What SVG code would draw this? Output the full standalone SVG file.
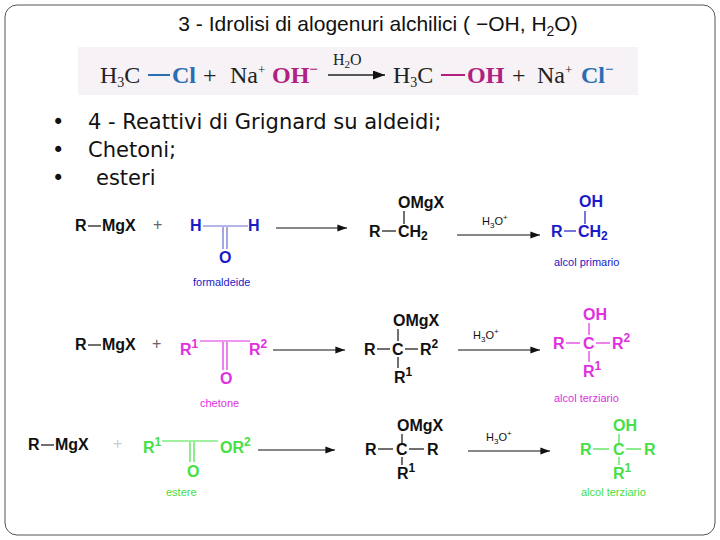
<svg xmlns="http://www.w3.org/2000/svg" width="720" height="540" viewBox="0 0 720 540">
<style>
.b{font-family:"Liberation Sans",Arial,sans-serif;font-weight:bold;font-size:16px}
.s{font-family:"Liberation Sans",Arial,sans-serif;font-size:11px}
.p{font-family:"Liberation Sans",Arial,sans-serif;font-size:16px}
.k{fill:#111}.bl{fill:#1a1ac8}.m{fill:#e030e0}.g{fill:#44e044}
.ln{stroke-width:1.2;fill:none}
.bu{font-family:"DejaVu Sans",sans-serif;font-size:21px;fill:#111}
.ch{font-family:"Liberation Serif",serif;font-size:24px}
</style>
<defs><marker id="a" markerWidth="8" markerHeight="6" refX="8" refY="3" orient="auto"><path d="M0,0L8,3L0,6z" fill="#111"/></marker></defs>
<rect x="5" y="5" width="710" height="530" rx="12" fill="#fff" stroke="#555"/>
<text x="378" y="31" text-anchor="middle" font-family="Liberation Sans,Arial,sans-serif" font-size="21" fill="#111">3 - Idrolisi di alogenuri alchilici ( −OH, H<tspan font-size="14" dy="5">2</tspan><tspan dy="-5">O)</tspan></text>
<rect x="78" y="47" width="560" height="48" fill="#f6f2f5"/>
<g class="ch">
<text x="100" y="83" fill="#222">H<tspan font-size="14" dy="4">3</tspan><tspan dy="-4">C</tspan></text>
<line x1="148" y1="75" x2="170" y2="75" stroke="#2a6db0" stroke-width="2"/>
<text x="172" y="83" fill="#2a6db0" font-weight="bold">Cl</text>
<text x="203" y="83" fill="#222">+</text>
<text x="230" y="83" fill="#222">Na<tspan font-size="13" dy="-9">+</tspan></text>
<text x="272" y="83" fill="#b02080" font-weight="bold">OH<tspan font-size="15" dy="-9">−</tspan></text>
<text x="333" y="65" font-size="16" fill="#222">H<tspan font-size="11" dy="3">2</tspan><tspan dy="-3">O</tspan></text>
<line x1="328" y1="75" x2="385" y2="75" stroke="#222" stroke-width="1.5" marker-end="url(#a)"/>
<text x="393" y="83" fill="#222">H<tspan font-size="14" dy="4">3</tspan><tspan dy="-4">C</tspan></text>
<line x1="441" y1="75" x2="465" y2="75" stroke="#b02080" stroke-width="2"/>
<text x="467" y="83" fill="#b02080" font-weight="bold">OH</text>
<text x="512" y="83" fill="#222">+</text>
<text x="537" y="83" fill="#222">Na<tspan font-size="13" dy="-9">+</tspan></text>
<text x="581" y="83" fill="#2a6db0" font-weight="bold">Cl<tspan font-size="15" dy="-9">−</tspan></text>
</g>
<text x="52" y="129" class="bu" font-size="17">•</text><text x="88" y="129" class="bu">4 - Reattivi di Grignard su aldeidi;</text>
<text x="52" y="157" class="bu">•</text><text x="88" y="157" class="bu">Chetoni;</text>
<text x="52" y="185" class="bu">•</text><text x="96" y="185" class="bu">esteri</text>
<g id="row1">
<text x="75" y="231" class="b k">R</text><line x1="88" y1="226" x2="101" y2="226" stroke="#111" class="ln"/><text x="102" y="231" class="b k">MgX</text>
<text x="153" y="230" class="p" fill="#666">+</text>
<text x="190" y="231" class="b bl">H</text><line x1="203" y1="226" x2="248" y2="226" stroke="#6a6ad0" class="ln"/><text x="248" y="231" class="b bl">H</text>
<line x1="223" y1="227" x2="223" y2="249" stroke="#6a6ad0" class="ln"/><line x1="227" y1="227" x2="227" y2="249" stroke="#6a6ad0" class="ln"/>
<text x="219" y="263" class="b bl">O</text>
<text x="193" y="286" class="s bl">formaldeide</text>
<line x1="276" y1="228" x2="347" y2="228" stroke="#111" class="ln" marker-end="url(#a)"/>
<text x="398" y="208" class="b k">OMgX</text><line x1="404" y1="211" x2="404" y2="224" stroke="#111" class="ln"/>
<text x="369" y="237" class="b k">R</text><line x1="382" y1="231" x2="396" y2="231" stroke="#111" class="ln"/><text x="398" y="237" class="b k">CH<tspan font-size="12" dy="3">2</tspan></text>
<text x="482" y="225" class="s k">H<tspan font-size="8" dy="3">3</tspan><tspan dy="-3">O</tspan><tspan font-size="8" dy="-5">+</tspan></text>
<line x1="457" y1="235" x2="540" y2="235" stroke="#111" class="ln" marker-end="url(#a)"/>
<text x="579" y="207" class="b bl">OH</text><line x1="585" y1="211" x2="585" y2="224" stroke="#1a1ac8" class="ln"/>
<text x="551" y="237" class="b bl">R</text><line x1="564" y1="231" x2="576" y2="231" stroke="#1a1ac8" class="ln"/><text x="578" y="237" class="b bl">CH<tspan font-size="12" dy="3">2</tspan></text>
<text x="554" y="266" class="s bl">alcol primario</text>
</g>
<g id="row2">
<text x="75" y="350" class="b k">R</text><line x1="88" y1="345" x2="101" y2="345" stroke="#111" class="ln"/><text x="102" y="350" class="b k">MgX</text>
<text x="152" y="349" class="p" fill="#666">+</text>
<text x="180" y="355" class="b m">R<tspan font-size="12" dy="-7">1</tspan></text><line x1="200" y1="341" x2="250" y2="341" stroke="#e030e0" class="ln"/><text x="249" y="355" class="b m">R<tspan font-size="12" dy="-7">2</tspan></text>
<line x1="223" y1="342" x2="223" y2="370" stroke="#e030e0" class="ln"/><line x1="227" y1="342" x2="227" y2="370" stroke="#e030e0" class="ln"/>
<text x="220" y="384" class="b m">O</text>
<text x="200" y="407" class="s m">chetone</text>
<line x1="273" y1="350" x2="345" y2="350" stroke="#111" class="ln" marker-end="url(#a)"/>
<text x="393" y="326" class="b k">OMgX</text><line x1="398" y1="329" x2="398" y2="341" stroke="#111" class="ln"/>
<text x="364" y="355" class="b k">R</text><line x1="377" y1="349" x2="390" y2="349" stroke="#111" class="ln"/><text x="392" y="355" class="b k">C</text><line x1="405" y1="349" x2="418" y2="349" stroke="#111" class="ln"/><text x="420" y="355" class="b k">R<tspan font-size="12" dy="-7">2</tspan></text>
<line x1="398" y1="357" x2="398" y2="368" stroke="#111" class="ln"/><text x="394" y="383" class="b k">R<tspan font-size="12" dy="-7">1</tspan></text>
<text x="473" y="339" class="s k">H<tspan font-size="8" dy="3">3</tspan><tspan dy="-3">O</tspan><tspan font-size="8" dy="-5">+</tspan></text>
<line x1="458" y1="350" x2="540" y2="350" stroke="#111" class="ln" marker-end="url(#a)"/>
<text x="583" y="320" class="b m">OH</text><line x1="589" y1="323" x2="589" y2="335" stroke="#e030e0" class="ln"/>
<text x="553" y="349" class="b m">R</text><line x1="566" y1="343" x2="580" y2="343" stroke="#e030e0" class="ln"/><text x="583" y="349" class="b m">C</text><line x1="596" y1="343" x2="610" y2="343" stroke="#e030e0" class="ln"/><text x="612" y="349" class="b m">R<tspan font-size="12" dy="-7">2</tspan></text>
<line x1="589" y1="351" x2="589" y2="362" stroke="#e030e0" class="ln"/><text x="583" y="377" class="b m">R<tspan font-size="12" dy="-7">1</tspan></text>
<text x="554" y="402" class="s m">alcol terziario</text>
</g>
<g id="row3">
<text x="28" y="450" class="b k">R</text><line x1="41" y1="445" x2="54" y2="445" stroke="#111" class="ln"/><text x="55" y="450" class="b k">MgX</text>
<text x="113" y="449" class="p" fill="#ccc">+</text>
<text x="143" y="453" class="b g">R<tspan font-size="12" dy="-7">1</tspan></text><line x1="162" y1="441" x2="218" y2="441" stroke="#44e044" class="ln"/><text x="220" y="453" class="b g">OR<tspan font-size="12" dy="-7">2</tspan></text>
<line x1="190" y1="442" x2="190" y2="462" stroke="#44e044" class="ln"/><line x1="194" y1="442" x2="194" y2="462" stroke="#44e044" class="ln"/>
<text x="187" y="477" class="b g">O</text>
<text x="166" y="496" class="s g">estere</text>
<line x1="258" y1="450" x2="335" y2="450" stroke="#111" class="ln" marker-end="url(#a)"/>
<text x="397" y="431" class="b k">OMgX</text><line x1="402" y1="434" x2="402" y2="445" stroke="#111" class="ln"/>
<text x="365" y="455" class="b k">R</text><line x1="378" y1="449" x2="393" y2="449" stroke="#111" class="ln"/><text x="396" y="455" class="b k">C</text><line x1="409" y1="449" x2="424" y2="449" stroke="#111" class="ln"/><text x="427" y="455" class="b k">R</text>
<line x1="402" y1="457" x2="402" y2="465" stroke="#111" class="ln"/><text x="397" y="479" class="b k">R<tspan font-size="12" dy="-7">1</tspan></text>
<text x="486" y="441" class="s k">H<tspan font-size="8" dy="3">3</tspan><tspan dy="-3">O</tspan><tspan font-size="8" dy="-5">+</tspan></text>
<line x1="468" y1="451" x2="550" y2="451" stroke="#111" class="ln" marker-end="url(#a)"/>
<text x="613" y="431" class="b g">OH</text><line x1="619" y1="434" x2="619" y2="445" stroke="#44e044" class="ln"/>
<text x="580" y="455" class="b g">R</text><line x1="593" y1="449" x2="609" y2="449" stroke="#44e044" class="ln"/><text x="613" y="455" class="b g">C</text><line x1="626" y1="449" x2="641" y2="449" stroke="#44e044" class="ln"/><text x="644" y="455" class="b g">R</text>
<line x1="619" y1="457" x2="619" y2="465" stroke="#44e044" class="ln"/><text x="613" y="479" class="b g">R<tspan font-size="12" dy="-7">1</tspan></text>
<text x="581" y="496" class="s g">alcol terziario</text>
</g>
</svg>
